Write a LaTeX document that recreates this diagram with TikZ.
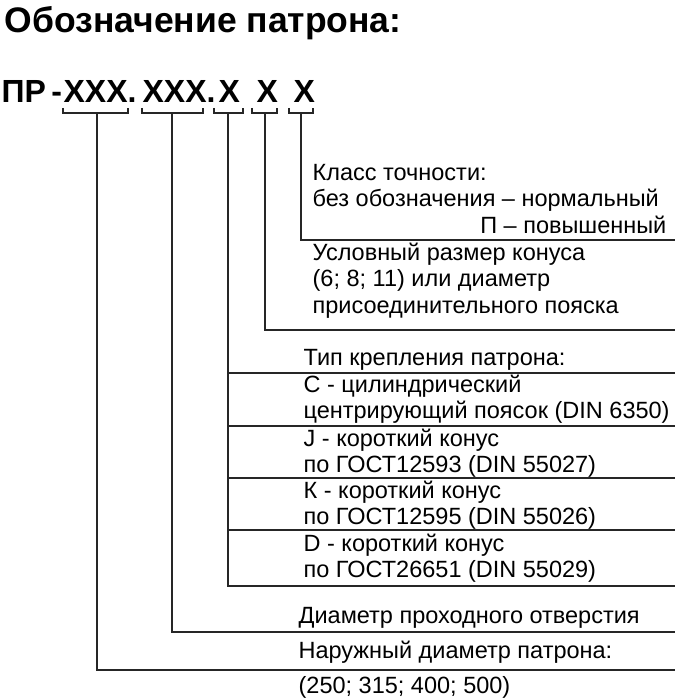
\documentclass[tikz,border=0pt]{standalone}
\usepackage{fontspec}
\setmainfont{Liberation Sans}
\usetikzlibrary{positioning}

\begin{document}
\begin{tikzpicture}[x=1pt, y=-1pt, line width=1.3pt, draw=black!85,
  lbl/.style={anchor=base west, inner sep=0pt, align=left, font=\fontsize{23.5}{26.5}\selectfont},
  code/.style={anchor=base west, inner sep=0pt, font=\fontsize{32}{36}\selectfont\bfseries}]
\useasboundingbox (0,0) rectangle (676,700);
\node[code, font=\fontsize{35.5}{40}\selectfont\bfseries] (title) at (4,33) {Обозначение патрона:};
\node[code] (pr) at (1,103) {ПР\hspace{5.5pt}-};
\node[code] (g1) at (63,103) {XXX.};
\node[code] (g2) at (142,103) {XXX.};
\node[code] (g3) at (218,103) {X};
\node[code] (g4) at (256,103) {X};
\node[code] (g5) at (293,103) {X};
\node[lbl] (cls) at (312,207) {Класс точности:\\без обозначения – нормальный};
\node[lbl, anchor=base east] (clsp) at (667,234) {П – повышенный};
\node[lbl] (cone) at (312,313) {Условный размер конуса\\(6; 8; 11) или диаметр\\присоединительного пояска};
\node[lbl] (mount) at (303,365) {Тип крепления патрона:};
\node[lbl, font=\fontsize{23.5}{25.5}\selectfont] (mc) at (303,418) {С - цилиндрический\\центрирующий поясок (DIN 6350)};
\node[lbl, font=\fontsize{23.5}{25.5}\selectfont] (mj) at (303,472) {J - короткий конус\\по ГОСТ12593 (DIN 55027)};
\node[lbl, font=\fontsize{23.5}{25.5}\selectfont] (mk) at (303,524) {К - короткий конус\\по ГОСТ12595 (DIN 55026)};
\node[lbl, font=\fontsize{23.5}{25.5}\selectfont] (md) at (303,577) {D - короткий конус\\по ГОСТ26651 (DIN 55029)};
\node[lbl] (bore) at (298,623) {Диаметр проходного отверстия};
\node[lbl] (outer) at (298,658) {Наружный диаметр патрона:};
\node[lbl] (sizes) at (298,693) {(250; 315; 400; 500)};
\foreach \a/\b/\c/\d in {63/128/97/670, 142/203/172/632, 214/243/228/586, 252/277/265/330, 289/313/301/240}
{
  \draw (\a,108) -- (\a,113) -- (\b,113) -- (\b,108);
  \draw (\c,113) |- (675,\d);
}
\foreach \y in {373,426,478,530}
  \draw (228,\y) -- (675,\y);
\end{tikzpicture}
\end{document}
